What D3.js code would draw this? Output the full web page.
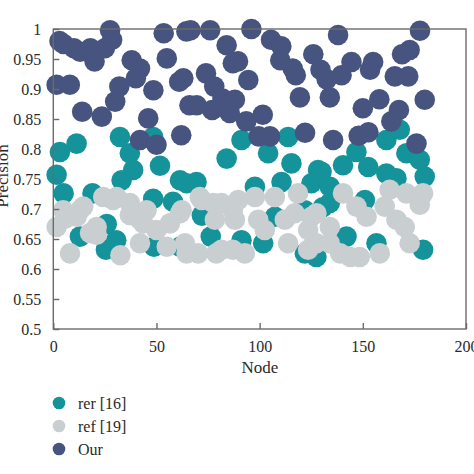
<!DOCTYPE html>
<html><head><meta charset="utf-8">
<script src="https://cdn.jsdelivr.net/npm/d3@7"></script>
<style>
html,body{margin:0;padding:0;background:#fff;overflow:hidden;}
svg{display:block;}
</style></head>
<body>
<svg id="chart" width="474" height="474"></svg>
<script>
const seriesNames = ["rer [16]", "ref [19]", "Our"];
const seriesColors = ["#15939b", "#c9ced1", "#46547f"];

const rerData = [
[1.6,0.757],[3.2,0.795],[5,0.726],[11.3,0.809],[12.9,0.654],[19,0.726],[25.9,0.675],[25.5,0.632],[30.5,0.648],[32.3,0.82],[33.1,0.748],[37.1,0.793],[38.7,0.765],[48.4,0.82],[48.4,0.717],[48.8,0.637],[51.7,0.772],[58,0.712],[61.4,0.748],[61.4,0.637],[64.6,0.743],[69.4,0.745],[72,0.689],[76.3,0.654],[84,0.784],[91.2,0.815],[91.2,0.648],[97.7,0.737],[101.7,0.643],[104.1,0.793],[107.4,0.687],[110.6,0.745],[113.8,0.82],[115.4,0.776],[121.9,0.626],[121.9,0.698],[125.1,0.743],[128.3,0.765],[127.5,0.62],[130,0.762],[130.6,0.703],[134,0.737],[134,0.71],[140.4,0.773],[142.1,0.654],[146.9,0.795],[151,0.715],[152.6,0.77],[156.6,0.643],[161.4,0.815],[161.4,0.759],[166.3,0.751],[167.9,0.832],[171.1,0.793],[177.6,0.782],[179.2,0.632],[180,0.754]
];
const refData = [
[1.6,0.67],[4.8,0.698],[5.7,0.684],[8.1,0.626],[11.3,0.687],[12.9,0.698],[14.5,0.704],[17.8,0.66],[21,0.67],[21,0.657],[24.2,0.72],[29,0.715],[30.7,0.72],[32.5,0.623],[37.1,0.71],[37.1,0.69],[42,0.682],[42,0.643],[43.6,0.676],[45.2,0.698],[50,0.665],[55,0.637],[56.5,0.676],[61.4,0.693],[62.2,0.698],[63.8,0.643],[64.6,0.626],[70.2,0.626],[71,0.72],[71.9,0.715],[77.5,0.71],[78.3,0.682],[79,0.626],[81.5,0.71],[81.5,0.632],[87,0.698],[88,0.682],[89.6,0.715],[87,0.632],[92.8,0.626],[97.7,0.72],[99.3,0.682],[102.5,0.665],[107.4,0.72],[112.2,0.682],[113.8,0.643],[117,0.693],[118.6,0.726],[123.5,0.665],[123.5,0.632],[125.1,0.687],[127.5,0.693],[127.5,0.643],[134,0.67],[134,0.643],[139,0.626],[140.4,0.726],[144,0.62],[146.9,0.704],[148.5,0.62],[151.8,0.687],[158.2,0.626],[160.6,0.704],[163,0.732],[166.3,0.682],[170.3,0.67],[171.1,0.726],[172.7,0.643],[177.6,0.707],[179.2,0.726]
];
const ourData = [
[3,0.98],[5,0.975],[10,0.968],[13,0.962],[18,0.968],[20,0.946],[25,0.968],[27.5,0.998],[28.5,0.982],
[1.6,0.907],[8,0.907],[14,0.862],[23.5,0.854],[30,0.879],[32,0.904],[38,0.948],[42,0.934],[40,0.918],[48.5,0.898],[46,0.851],[42,0.815],[50,0.807],[62,0.823],[53.5,0.993],[64.5,0.996],[55,0.951],[61,0.912],[66,0.873],
[66.5,0.998],[76,0.998],[84,0.973],[89.5,0.946],[94.5,0.915],[96,1.0],[105.5,0.982],[110.5,0.971],[110,0.948],[116,0.934],[117.5,0.923],[119.5,0.886],[126,0.958],[129.5,0.932],[132.5,0.916],
[63,0.918],[74,0.926],[78,0.904],[69.5,0.873],[82,0.884],[88,0.882],[85.5,0.86],[93.5,0.846],[101.5,0.857],[99.5,0.821],[105,0.821],[122,0.827],
[138,0.99],[177.7,0.997],[172.7,0.965],[169,0.958],[144.5,0.945],[155,0.945],[153.5,0.932],[139.7,0.923],[165.5,0.921],[172,0.921],[134,0.886],[150,0.868],[158,0.883],[167.5,0.865],[180,0.882],[163.8,0.846],[135.6,0.815],[148,0.822],[152.7,0.828],[176,0.809],[87,0.943],[77,0.865]
];
const xTicks = [0, 50, 100, 150, 200];
const yTicks = [0.5, 0.55, 0.6, 0.65, 0.7, 0.75, 0.8, 0.85, 0.9, 0.95, 1];
const xLabel = "Node";
const yLabel = "Precision";

const svg = d3.select("#chart");
const L = 53.3, R = 466, T = 29, B = 329;
const x = d3.scaleLinear().domain([0, 200]).range([L, R]);
const y = d3.scaleLinear().domain([0.5, 1]).range([B, T]);
const font = "'Liberation Serif', 'DejaVu Serif', serif";
const frameColor = "#6b6b6b";
const textColor = "#2a2a2a";

// points
const all = [rerData, refData, ourData];
all.forEach((data, i) => {
  svg.append("g").selectAll("circle").data(data).join("circle")
    .attr("cx", d => x(d[0])).attr("cy", d => y(d[1]))
    .attr("r", 10.3).attr("fill", seriesColors[i]);
});

// frame
svg.append("rect").attr("x", L).attr("y", T).attr("width", R - L).attr("height", B - T)
  .attr("fill", "none").attr("stroke", frameColor).attr("stroke-width", 1.4);

// y axis (ticks inward)
const yAxis = d3.axisLeft(y).tickValues(yTicks).tickSize(-6).tickPadding(12)
  .tickFormat(d => d3.format("")(+d.toFixed(2)));
const gy = svg.append("g").attr("transform", `translate(${L},0)`).call(yAxis);
gy.select(".domain").remove();
gy.selectAll("line").attr("stroke", frameColor).attr("stroke-width", 1.4);
gy.selectAll("text").attr("font-family", font).attr("font-size", 16).attr("fill", textColor);

// x axis (ticks inward)
const xAxis = d3.axisBottom(x).tickValues(xTicks).tickSize(-6).tickPadding(12);
const gx = svg.append("g").attr("transform", `translate(0,${B})`).call(xAxis);
gx.select(".domain").remove();
gx.selectAll("line").attr("stroke", frameColor).attr("stroke-width", 1.4);
gx.selectAll("text").attr("font-family", font).attr("font-size", 16).attr("fill", textColor);

// labels
svg.append("text").attr("x", 260).attr("y", 373).attr("text-anchor", "middle")
  .attr("font-family", font).attr("font-size", 17).attr("fill", textColor).text(xLabel);
svg.append("text").attr("transform", "translate(7.5,176) rotate(-90)").attr("text-anchor", "middle")
  .attr("font-family", font).attr("font-size", 17).attr("fill", textColor).text(yLabel);

// legend
const lg = svg.append("g");
seriesNames.forEach((name, i) => {
  const cy = 403 + i * 23;
  lg.append("circle").attr("cx", 59).attr("cy", cy).attr("r", 6.3).attr("fill", seriesColors[i]);
  lg.append("text").attr("x", 78).attr("y", cy).attr("dy", "0.35em")
    .attr("font-family", font).attr("font-size", 16).attr("fill", textColor).text(name);
});
</script>
</body></html>
